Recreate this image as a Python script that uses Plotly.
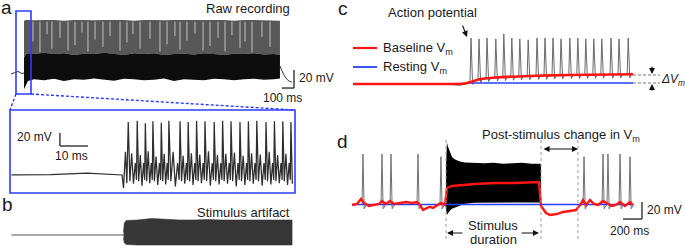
import plotly.graph_objects as go

W, H = 685, 248
REST_V = -65.0

# ---------------- DATA ----------------
# Panel a: raw recording (time ms, membrane potential mV)
raw_pre_t = [-108, -92, -67, -50, -33, -17, 0]
raw_pre_v = [-66.1, -65.5, -64.4, -63.3, -64.4, -65.6, -65.0]
raw_env_t = [0, 17, 33, 83, 167, 250, 333, 417, 500, 583, 667, 750, 833, 917, 1000,
             1083, 1167, 1250, 1333, 1417, 1500, 1583, 1667, 1750, 1833, 1917, 2000, 2083, 2133]
raw_spike_top = [-7, -6, -6, -6.5, -6, -6, -7, -6, -6, -6.5, -6, -6, -6, -7, -6,
                 -6, -6.5, -6, -6, -6, -6.5, -6, -6, -7, -6, -6, -6.5, -7, -7]
raw_band_top = [-48, -44, -43, -44, -42.5, -44, -43, -45, -43.5, -44, -42.5, -44, -45, -43, -44,
                -43, -45, -44, -43.5, -44.5, -43, -44, -45, -43.5, -44, -43, -44.5, -44, -45]
raw_band_bot = [-83, -79, -74, -72, -73, -71.5, -74, -72, -72.5, -71, -72, -73.5, -71.5, -72, -73,
                -72.5, -71, -74, -72, -72.5, -73, -71.5, -72, -73, -72, -71.5, -72.5, -72, -71]
raw_post_t = [2133, 2158, 2183, 2208, 2233]
raw_post_v = [-57.2, -65.0, -70.6, -73.9, -75.0]
# lighter streaks (gaps between spikes) in the raw recording: time and lower end
raw_gap_t = [75, 133, 192, 233, 300, 367, 425, 483, 533, 592, 658, 717, 800, 858, 908, 967,
             1050, 1133, 1192, 1258, 1300, 1358, 1425, 1492, 1550, 1617, 1675, 1733, 1800,
             1842, 1900, 1983, 2050]
raw_gap_v = [-30, -42, -22, -38, -26, -40, -34, -20, -41, -28, -36, -24, -40, -31, -22, -38,
             -27, -41, -33, -24, -39, -29, -21, -40, -35, -26, -41, -23, -37, -30, -42, -25, -36]

# Panel a inset: zoom on stimulus onset (ms, mV)
inset_pre_t = [-40, -26, -13, -5, -0.5]
inset_pre_v = [-66.5, -65.8, -63.5, -65.0, -66.5]
inset_onset_t = [0.0, 0.7, 1.2]
inset_onset_v = [-86.5, -31.0, -79.0]
inset_spike_t = [1.7, 4.9, 7.8, 10.5, 13.5, 16.2, 20.2, 23.1, 26.1, 29.1,
                 32.4, 35.4, 38.4, 41.6, 44.6, 47.6, 50.9, 53.9, 56.9, 59.8]
inset_spike_v = [15, 17, 13, 16, 14, 17, 16, 15, 17, 16, 15, 17, 16, 15, 16, 17, 15, 16, 16, 15]
inset_bump_v = [-33, -36, -30, -38, -34, -31, -37, -33, -35, -30,
                -36, -34, -32, -37, -33, -35, -31, -36, -34, -33]
inset_trough_v = [-80, -83, -79, -82, -81, -84, -80, -82, -79, -83,
                  -81, -80, -84, -82, -80, -83, -81, -79, -82, -80]
inset_fall_v = -76
inset_mid_v = -48
inset_prespike_v = -74

# Panel b: stimulus artifact (ms, a.u.)
stim_pre_t = [-40, 0]
stim_pre_v = [0, 0]
stim_t = [0, 0.3, 1, 5, 10, 15, 20, 25, 30, 35, 40, 45, 50, 55, 60, 60.2]
stim_hi = [3, 12, 14.5, 15, 16.5, 15.5, 15, 15, 15.5, 15, 15, 15.5, 15, 15, 15, 15]
stim_lo = [-3, -8, -9.5, -10, -10, -10, -10, -10.5, -10, -10, -10, -10, -10.5, -10, -10, -10]

# Panel c: action potentials, baseline and resting Vm (ms, mV)
c_red_t = [-280, -150, -50, 0, 37, 87, 162, 262, 420]
c_red_v = [-66.1, -66.1, -66.1, -65.6, -60.9, -58.6, -57.2, -56.1, -55.3]
c_blue_t = [0, 420]
c_blue_v = [REST_V, REST_V]
c_gray_pre_t = [-280, -40, -15, 0]
c_gray_pre_v = [-66.1, -66.3, -67.5, -66.5]
c_spike_t = [15, 35, 55, 77, 97, 117, 137, 158, 180, 200,
             220, 240, 262, 282, 302, 322, 342, 365, 385, 408]
c_spike_peak = [-15, -16, -15, -16, -10.5, -15, -16, -17, -15, -15,
                -15, -16, -15, -15, -16, -16, -16, -15, -16, -15]
c_spike_base = [-62.5, -60.5, -59.5, -58.8, -58.4, -58, -57.6, -57.3, -57, -56.8,
                -56.6, -56.4, -56.1, -56, -55.9, -55.8, -55.7, -55.6, -55.5, -55.4]
c_ahp_depth = 4.0
c_delta_top = -56.1
c_delta_bot = REST_V

# Panel d: full trial (ms, mV)
d_red_t = [-989, -937, -895, -863, -811, -758, -705, -674, -632, -589, -547, -484, -421,
           -358, -305, -274, -242, -200, -168, -137, -95, -53, -11, 11, 63, 147, 305, 516,
           726, 979, 1000, 1053, 1095, 1168, 1232, 1305, 1368, 1411, 1442, 1474, 1516, 1558,
           1600, 1653, 1695, 1747, 1789, 1832, 1884, 1937, 1968]
d_red_v = [-65.6, -64.4, -58.5, -63.2, -66.8, -65.6, -64.4, -60.9, -64.4, -60.9, -64.4,
           -63.2, -62.1, -63.2, -62.1, -65.6, -71.5, -69.1, -67.9, -69.1, -65.6, -63.2,
           -65.6, -45.6, -43.2, -42.1, -40.9, -39.7, -39.7, -38.5, -66.8, -75.0, -77.4,
           -76.2, -73.8, -72.6, -71.5, -65.6, -59.7, -65.6, -59.7, -64.4, -65.6, -60.9,
           -63.2, -66.8, -65.6, -62.1, -66.8, -62.1, -65.6]
d_blue_t = [-989, 1968]
d_blue_v = [REST_V, REST_V]
d_band_t = [0, 10, 21, 42, 63, 95, 147, 200, 300, 400, 500, 600, 700, 800, 900, 980, 1000]
d_band_hi = [-20, 8, 3, -4, -9, -12, -14.5, -15.5, -16, -16.5, -16, -17, -16.5, -16, -17, -16.5, -17]
d_band_lo = [-70, -77, -75, -72, -70, -68, -66, -64, -63, -62.5, -63, -62.5, -63, -62.5, -63, -62.5, -62.5]
d_spike_t = [-874, -674, -579, -295, -53, 1453, 1653, 1705, 1832, 1937]
d_spike_v = [-5.6, -5.6, -5.6, -5.6, -8.8, -8.8, -5.6, -5.6, -5.6, -8.8]
d_stim_on, d_stim_off, d_post_end = 0, 1000, 1389

# ---------------- STYLE / LAYOUT ----------------
FONT = "Liberation Sans, Arial, sans-serif"
RED = "#ff1414"
BLUE = "#2341ff"
BOX_BLUE = "#2b3cff"
TXT = "#1a1a1a"


def px(x):
    return x / W


def py(y):
    return 1 - y / H


layout_axes = {}


def make_axes(idx, box, xmap, ymap):
    x0, x1, y0, y1 = box
    ax_, bx = xmap
    ay, vref, by = ymap
    s = "" if idx == 1 else str(idx)
    layout_axes["xaxis" + s] = dict(domain=[x0 / W, x1 / W],
                                    range=[(x0 - ax_) / bx, (x1 - ax_) / bx],
                                    visible=False, anchor="y" + s, fixedrange=True)
    layout_axes["yaxis" + s] = dict(domain=[1 - y1 / H, 1 - y0 / H],
                                    range=[vref + (ay - y1) / by, vref + (ay - y0) / by],
                                    visible=False, anchor="x" + s, fixedrange=True)


make_axes(1, (0, 335, 0, 105), (24, 0.12), (73, REST_V, 0.9))        # a raw
make_axes(2, (11, 294, 111, 192), (123.5, 2.8), (174, REST_V, 0.65))  # a inset
make_axes(3, (0, 335, 196, 248), (123.5, 2.8), (235, 0, 1.0))         # b
make_axes(4, (340, 685, 0, 128), (465, 0.4), (83, REST_V, 0.9))       # c
make_axes(5, (340, 685, 128, 248), (446, 0.095), (204.5, REST_V, 0.85))  # d

fig = go.Figure()


def add(x, y, ax, **kw):
    s = "" if ax == 1 else str(ax)
    fig.add_trace(go.Scatter(x=x, y=y, xaxis="x" + s, yaxis="y" + s, mode="lines",
                             showlegend=False, hoverinfo="skip", **kw))


# ---- panel a ----
add(raw_env_t + raw_env_t[::-1], raw_spike_top + raw_band_top[::-1], 1,
    fill="toself", fillcolor="#585858", line=dict(width=0))
gapx, gapy = [], []
for t, v in zip(raw_gap_t, raw_gap_v):
    gapx += [t, t, None]
    gapy += [raw_spike_top[0] - 1, v, None]
add(gapx, gapy, 1, line=dict(color="rgba(255,255,255,0.7)", width=0.9))
add(raw_env_t + raw_env_t[::-1], raw_band_top + raw_band_bot[::-1], 1,
    fill="toself", fillcolor="#0d0d0d", line=dict(width=0))
add(raw_pre_t, raw_pre_v, 1, line=dict(color="#333", width=1))
add(raw_post_t, raw_post_v, 1, line=dict(color="#333", width=1, shape="spline"))

# ---- inset ----
CYCLE_FRAC = [0.18, 0.38, 0.58, 0.78, 0.92]
ix = list(inset_pre_t) + list(inset_onset_t)
iy = list(inset_pre_v) + list(inset_onset_v)
for k, (t, v) in enumerate(zip(inset_spike_t, inset_spike_v)):
    ix.append(t)
    iy.append(v)
    if k + 1 < len(inset_spike_t):
        isi = inset_spike_t[k + 1] - t
        vals = [inset_fall_v, inset_bump_v[k], inset_trough_v[k], inset_mid_v, inset_prespike_v]
        for f, val in zip(CYCLE_FRAC, vals):
            ix.append(t + f * isi)
            iy.append(val)
    else:
        ix.append(t + 0.5)
        iy.append(inset_trough_v[k])
add(ix, iy, 2, line=dict(color="#2e2e2e", width=1.25))

# ---- panel b ----
add(stim_pre_t, stim_pre_v, 3, line=dict(color="#555", width=1))
add(stim_t + stim_t[::-1], stim_hi + stim_lo[::-1], 3,
    fill="toself", fillcolor="#363636", line=dict(width=0.6, color="#363636"))

# ---- panel c ----
cx = list(c_gray_pre_t)
cy = list(c_gray_pre_v)
for t, v, b in zip(c_spike_t, c_spike_peak, c_spike_base):
    cx += [t - 2.5, t, t + 4, t + 8]
    cy += [b, v, b - c_ahp_depth, b]
add(cx, cy, 4, line=dict(color="#6a6a6a", width=1))
add(c_blue_t, c_blue_v, 4, line=dict(color=BLUE, width=1.5))
add(c_red_t, c_red_v, 4, line=dict(color=RED, width=2.6, shape="spline", smoothing=0.6))

# ---- panel d ----
add(d_band_t + d_band_t[::-1], d_band_hi + d_band_lo[::-1], 5,
    fill="toself", fillcolor="#000000", line=dict(width=0))
gx, gy = [], []
for t, v in zip(d_spike_t, d_spike_v):
    gx += [t - 10, t, t + 12, t + 40, None]
    gy += [REST_V, v, REST_V - 5, REST_V, None]
add(gx, gy, 5, line=dict(color="#707070", width=1))
add(d_blue_t, d_blue_v, 5, line=dict(color=BLUE, width=1.5))
add(d_red_t, d_red_v, 5, line=dict(color=RED, width=2.4))

# ---------------- SHAPES ----------------
shapes = []
shapes.append(dict(type="rect", xref="paper", yref="paper", x0=px(16), x1=px(31),
                   y0=py(94), y1=py(11), line=dict(color=BOX_BLUE, width=1.6)))
shapes.append(dict(type="rect", xref="paper", yref="paper", x0=px(10), x1=px(295),
                   y0=py(193), y1=py(110), line=dict(color=BOX_BLUE, width=1.6)))
for (a, b) in [((16, 94), (10, 110)), ((31, 94), (295, 110))]:
    shapes.append(dict(type="line", xref="paper", yref="paper", x0=px(a[0]), y0=py(a[1]),
                       x1=px(b[0]), y1=py(b[1]),
                       line=dict(color=BOX_BLUE, width=1.4, dash="3px,2px")))


def scalebar(ax, tx, vy, dt, dv):
    s = "" if ax == 1 else str(ax)
    shapes.append(dict(type="line", xref="x" + s, yref="y" + s, x0=tx - dt, x1=tx, y0=vy, y1=vy,
                       line=dict(color="#222", width=1.3)))
    shapes.append(dict(type="line", xref="x" + s, yref="y" + s, x0=tx, x1=tx, y0=vy, y1=vy + dv,
                       line=dict(color="#222", width=1.3)))


scalebar(1, 2250, -81.7, 100, 20)
scalebar(5, 2063, -82.1, 200, 20)
shapes.append(dict(type="line", xref="x2", yref="y2", x0=-22.7, x1=-22.7, y0=-21.9, y1=-1.9,
                   line=dict(color="#222", width=1.3)))
shapes.append(dict(type="line", xref="x2", yref="y2", x0=-22.7, x1=-12.7, y0=-21.9, y1=-21.9,
                   line=dict(color="#222", width=1.3)))

for v in (c_delta_top, c_delta_bot):
    shapes.append(dict(type="line", xref="x4", yref="y4", x0=420, x1=488, y0=v, y1=v,
                       line=dict(color="#777", width=1.2, dash="3px,2px")))

shapes.append(dict(type="line", xref="paper", yref="paper", x0=px(353), x1=px(377),
                   y0=py(48), y1=py(48), line=dict(color=RED, width=2.2)))
shapes.append(dict(type="line", xref="paper", yref="paper", x0=px(353), x1=px(377),
                   y0=py(67), y1=py(67), line=dict(color=BLUE, width=1.8)))

for t in (d_stim_on, d_stim_off, d_post_end):
    shapes.append(dict(type="line", xref="x5", yref="y5", x0=t, x1=t, y0=10.9, y1=-107.5,
                       line=dict(color="#9a9a9a", width=1, dash="dot")))

# ---------------- ANNOTATIONS ----------------
ann = []


def text(t, x, y, size=13, xanchor="left", color=TXT):
    ann.append(dict(text=t, x=px(x), y=py(y), xref="paper", yref="paper", showarrow=False,
                    xanchor=xanchor, yanchor="middle", borderpad=0,
                    font=dict(family=FONT, size=size, color=color)))


def arrow(x, y, axo, ayo, side="end"):
    ann.append(dict(text="", x=px(x), y=py(y), xref="paper", yref="paper", showarrow=True,
                    ax=axo, ay=ayo, axref="pixel", ayref="pixel", arrowhead=2, arrowsize=1.1,
                    arrowwidth=1.1, arrowcolor="#111", arrowside=side, standoff=0, startstandoff=0))


text("a", 0, 8, 19)
text("b", 1, 204, 19)
text("c", 337, 9, 19)
text("d", 336, 141, 19)
text("Raw recording", 291, 9, 13, "right")
text("20 mV", 298, 78, 12)
text("100 ms", 282, 98, 12, "center")
text("20 mV", 53, 137, 12, "right")
text("10 ms", 71, 156, 12, "center")
text("Stimulus artifact", 291, 212, 13, "right")
text("Action potential", 387, 13, 13)
text("Baseline V<sub>m</sub>", 382, 49, 13)
text("Resting V<sub>m</sub>", 382, 67, 13)
text("<i>ΔV<sub>m</sub></i>", 660, 80, 12)
text("Post-stimulus change in V<sub>m</sub>", 481, 135, 13)
text("Stimulus", 493, 225, 13, "center")
text("duration", 493, 239, 13, "center")
text("20 mV", 646, 210, 12)
text("200 ms", 629, 231, 12, "center")

arrow(467, 37, -5, -13)
arrow(652, 74, 0, -9)
arrow(652, 84, 0, 8)
arrow(578, 149, -36, 0, "end+start")
arrow(447, 233, 17, 0)
arrow(539, 233, -19, 0)

fig.update_layout(width=W, height=H, margin=dict(l=0, r=0, t=0, b=0),
                  paper_bgcolor="white", plot_bgcolor="rgba(0,0,0,0)", template="none",
                  shapes=shapes, annotations=ann, showlegend=False, **layout_axes)

fig.write_html("out.html", config={"displayModeBar": False, "staticPlot": True},
               post_script="document.body.style.margin='0px';document.body.style.overflow='hidden';")
